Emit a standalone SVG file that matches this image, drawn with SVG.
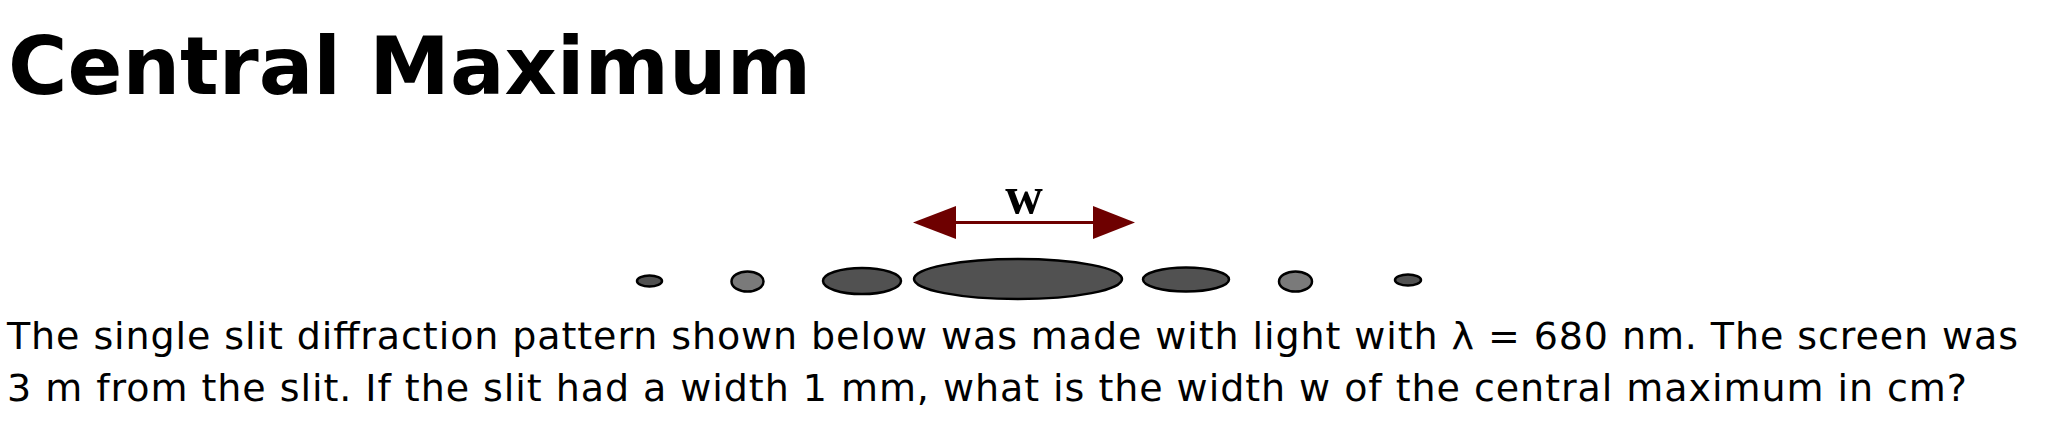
<svg xmlns="http://www.w3.org/2000/svg" width="2046" height="435" viewBox="0 0 2046 435">
<style>
.title{font-family:"DejaVu Sans","Verdana",sans-serif;font-weight:bold;font-size:81px;fill:#000}
.body{font-family:"DejaVu Sans","Verdana",sans-serif;font-size:38px;fill:#000}
.lbl{font-family:"Liberation Serif","Times New Roman",serif;font-weight:bold;font-size:52px;fill:#000}
.dark{fill:#515151;stroke:#000;stroke-width:2.5}
.light{fill:#7a7a7a;stroke:#000;stroke-width:2.5}
.arrowline{stroke:#6e0000;stroke-width:3;fill:none}
.head{fill:#6e0000}
</style>
<rect width="2046" height="435" fill="#fff"/>
<g id="title"><text class="title" x="8" y="94">Central Maximum</text></g>
<g id="pattern">
<ellipse id="m-3" class="dark" cx="649.5" cy="281" rx="12.5" ry="5.5"/>
<ellipse id="m-2" class="light" cx="747.5" cy="281.5" rx="16" ry="10"/>
<ellipse id="m-1" class="dark" cx="862" cy="281" rx="39" ry="13"/>
<ellipse id="m0" class="dark" cx="1018" cy="279" rx="104" ry="20"/>
<ellipse id="m1" class="dark" cx="1186" cy="279.5" rx="43" ry="12"/>
<ellipse id="m2" class="light" cx="1295.5" cy="281.5" rx="16.5" ry="10"/>
<ellipse id="m3" class="dark" cx="1408" cy="280" rx="13" ry="5.5"/>
</g>
<g id="connectors">
<line class="arrowline" x1="955" y1="222.5" x2="1094" y2="222.5"/>
<polygon class="head" points="913,222.5 956,206 956,239"/>
<polygon class="head" points="1135,222.5 1093,206 1093,239"/>
</g>
<g id="label-w"><text class="lbl" x="1024" y="213" text-anchor="middle">w</text></g>
<g id="question">
<text class="body" x="7" y="349" textLength="2011" lengthAdjust="spacing">The single slit diffraction pattern shown below was made with light with λ = 680 nm. The screen was</text>
<text class="body" x="7" y="401" textLength="1960" lengthAdjust="spacing">3 m from the slit. If the slit had a width 1 mm, what is the width w of the central maximum in cm?</text>
</g>
</svg>
